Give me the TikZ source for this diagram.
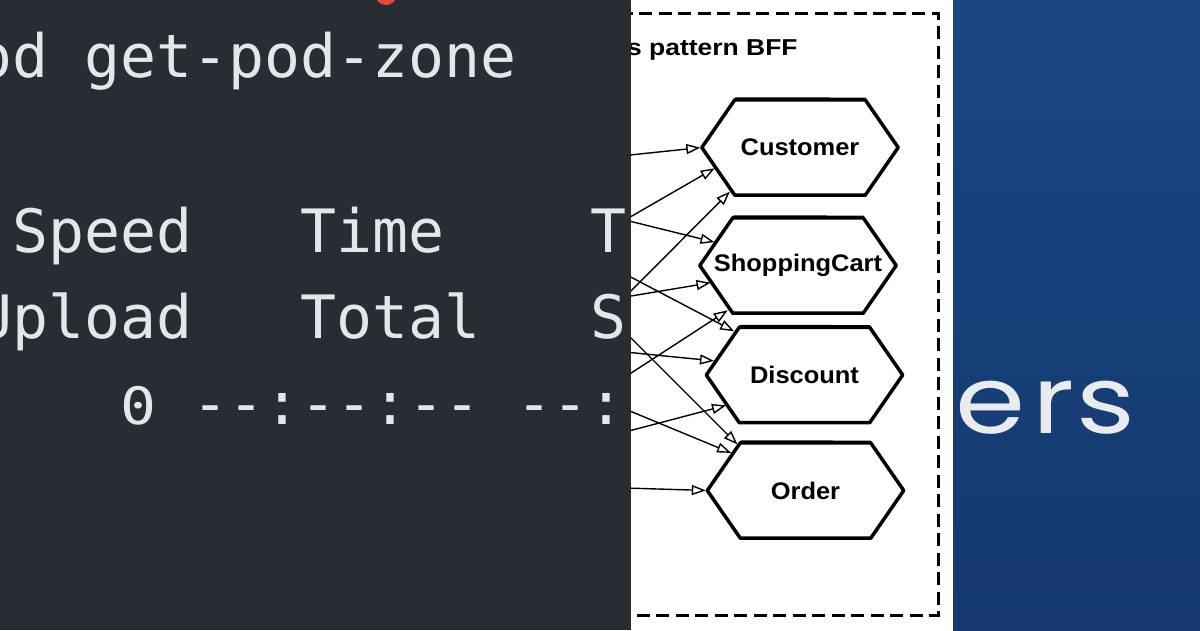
\documentclass[tikz,border=0pt]{standalone}
\usepackage{fontspec}
\usepackage{graphicx}
\usetikzlibrary{arrows.meta,calc}
\newfontfamily\termfont{DejaVu Sans Mono}[Ligatures=TeXOff]
\newfontfamily\labfont{Liberation Sans}
\newfontfamily\popfont{Poppins}
\definecolor{termbg}{HTML}{282D33}
\definecolor{termfg}{HTML}{E4E6E7}
\definecolor{bluetop}{HTML}{1B4583}
\definecolor{bluebot}{HTML}{13396E}
\definecolor{redblob}{HTML}{E5483D}
\definecolor{lighttxt}{HTML}{EAEBEC}
\tikzset{
  term/.style={anchor=base west, inner sep=0pt, text=termfg,
    font=\termfont\fontsize{59.8}{60}\selectfont},
  titletext/.style={anchor=base west, inner sep=0pt, text=black,
    font=\labfont\bfseries\fontsize{23}{23}\selectfont},
  hexbox/.style={shape=rectangle, minimum width=196pt, minimum height=95pt,
    inner sep=0pt, text=black, font=\labfont\bfseries\fontsize{24}{24}\selectfont},
  hexline/.style={draw=black, line width=3.5pt, line join=round, line cap=round},
  hexsketch/.style={draw=black, line width=1.3pt, line join=round, line cap=round},
  frameline/.style={draw=black, line width=3pt, dash pattern=on 13pt off 6.5pt},
  arr/.style={draw=black, line width=1.4pt,
    -{Triangle[open,length=14pt,width=10pt]}, shorten >=1.5pt},
}
\begin{document}
\begin{tikzpicture}[x=1pt,y=-1pt]
\useasboundingbox (0,0) rectangle (1200,630);
% terminal panel
\fill[termbg] (0,0) rectangle (631,630);
\begin{scope}
  \clip (0,0) rectangle (631,630);
  \fill[redblob] (386,-6) circle (11);
  \node[term] (l1) at (-24,77) {od get-pod-zone};
  \node[term] (w21) at (12,252) {Speed};
  \node[term] (w22) at (300,252) {Time};
  \node[term] (w23) at (590,252) {Ti};
  \node[term] (w31) at (-24,338) {Upload};
  \node[term] (w32) at (300,338) {Total};
  \node[term] (w33) at (590,338) {Sp};
  \node[term] (w41) at (120,424) {\scalebox{1}[0.86]{0}};
  \node[term] (w42) at (192,424) {--:--:--};
  \node[term] (w43) at (516,424) {--:};
\end{scope}
% blue panel
\shade[top color=bluetop, bottom color=bluebot] (953,0) rectangle (1200,630);
\node[anchor=base east, inner sep=0pt, text=lighttxt,
  font=\popfont\fontsize{94}{94}\selectfont] (ers) at (1136,433)
  {\scalebox{1.2}[1]{te\kern6pt r\kern2pt s}};
% white panel
\fill[white] (631,0) rectangle (953,630);
\begin{scope}
  \clip (631,0) rectangle (953,630);
  \draw[frameline] (600,13) -- (938,13) -- (938,615) -- (600,615);
  \node[titletext] (ttl) at (627,55) {\scalebox{1.15}[1]{s pattern BFF}};
  % hexagon nodes
  \node[hexbox] (cust) at (800,147.5) {\scalebox{1.06}[1]{Customer}};
  \node[hexbox] (cart) at (798,265.5) {\scalebox{1.06}[1]{ShoppingCart}};
  \node[hexbox] (disc) at (804.5,375) {\scalebox{1.06}[1]{Discount}};
  \node[hexbox] (ord) at (805.5,490.5) {\scalebox{1.06}[1]{Order}};
  \foreach \n in {cust,cart,disc,ord}{
    \draw[hexline] (\n.west) -- ([xshift=33pt]\n.north west)
      -- ([xshift=-33pt]\n.north east) -- (\n.east)
      -- ([xshift=-33pt]\n.south east) -- ([xshift=33pt]\n.south west) -- cycle;
    \draw[hexsketch] ([shift={(1.5pt,1.5pt)}]\n.west) -- ([shift={(34pt,1.8pt)}]\n.north west)
      -- ([shift={(-33pt,1.6pt)}]\n.north east);
  }
  % free ends of the connectors (sources outside the panel)
  \coordinate (s1) at (625,155.5);
  \coordinate (s2) at (625,220);
  \coordinate (s3) at (625,297);
  \coordinate (s4) at (625,274);
  \coordinate (s5) at (625,332);
  \coordinate (s6) at (625,352);
  \coordinate (s7) at (625,377);
  \coordinate (s8) at (625,409);
  \coordinate (s9) at (625,432);
  \coordinate (s10) at (625,488);
  % connectors
  \draw[arr] (s1) -- (cust.west);
  \draw[arr] (s2) -- ($(cust)+(-84,20)$);
  \draw[arr] (s2) -- ($(cart)+(-82,-23)$);
  \draw[arr] (s3) -- ($(cust)+(-69,43)$);
  \draw[arr] (s3) -- ($(cart)+(-86,17)$);
  \draw[arr] (s4) -- ($(disc)+(-69,-43)$);
  \draw[arr] (s5) -- ($(ord)+(-67,-45)$);
  \draw[arr] (s6) -- ($(disc)+(-89,-14)$);
  \draw[arr] (s7) -- ($(cart)+(-69,44)$);
  \draw[arr] (s8) -- ($(ord)+(-73,-37)$);
  \draw[arr] (s9) -- ($(disc)+(-77,30)$);
  \draw[arr] (s10) -- (ord.west);
\end{scope}
\end{tikzpicture}
\end{document}
